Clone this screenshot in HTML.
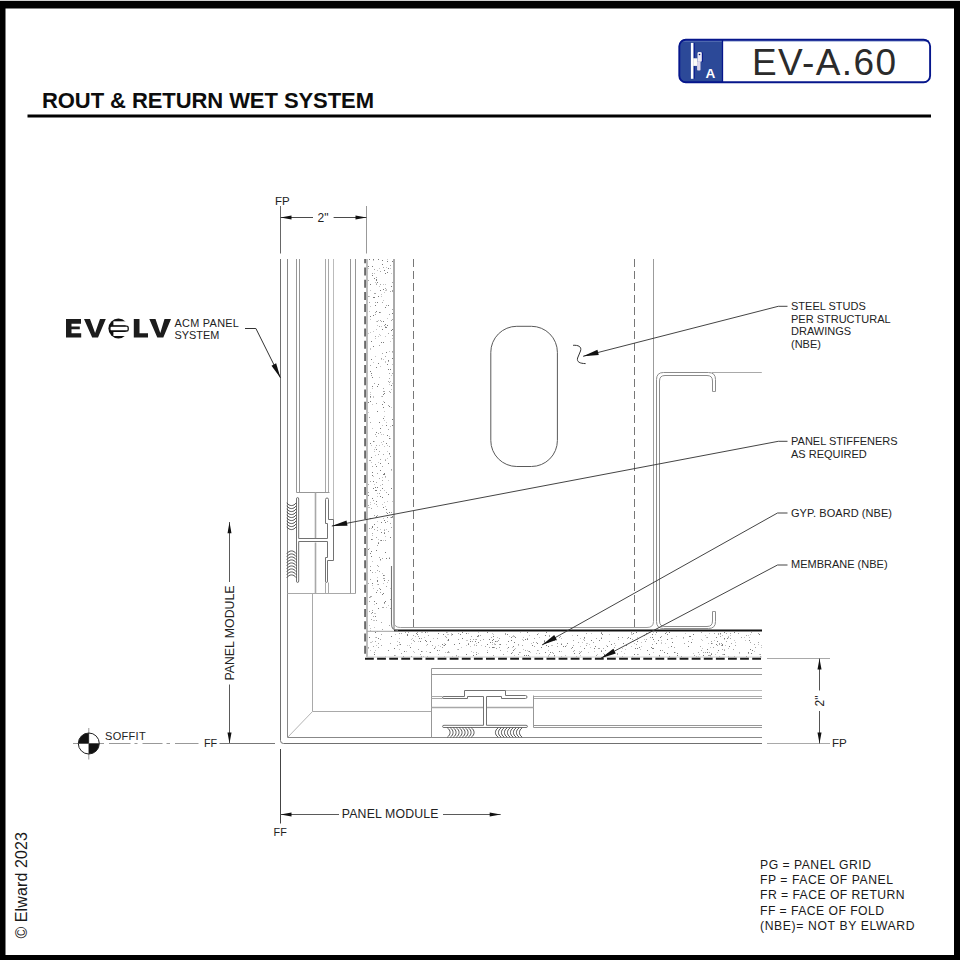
<!DOCTYPE html>
<html><head><meta charset="utf-8"><title>Rout &amp; Return Wet System</title>
<style>html,body{margin:0;padding:0;background:#000;width:960px;height:960px;overflow:hidden}
svg{display:block} text{font-family:"Liberation Sans", sans-serif}</style></head>
<body><svg width="960" height="960" viewBox="0 0 960 960">
<rect x="0" y="0" width="960" height="960" fill="#000"/>
<rect x="0" y="0" width="960" height="1" fill="#cfcfcf"/>
<rect x="5.5" y="8.5" width="948.5" height="946.5" fill="#fff"/>
<text x="42" y="107.5" font-size="22" font-weight="bold" fill="#0d0d0d" text-anchor="start" textLength="332" >ROUT &amp; RETURN WET SYSTEM</text>
<rect x="27.5" y="114.5" width="903.5" height="3" fill="#000"/>
<rect x="679.3" y="39.7" width="250.8" height="42.6" rx="6.5" fill="#fff"/>
<path d="M685.8 39.7 H722.5 V82.3 H685.8 Q679.3 82.3 679.3 75.8 V46.2 Q679.3 39.7 685.8 39.7 Z" fill="#2c4998"/>
<path d="M681 40.9 H929" stroke="#7088c4" stroke-width="1.2"/>
<rect x="679.3" y="39.7" width="250.8" height="42.6" rx="6.5" fill="none" stroke="#06168c" stroke-width="1.9"/>
<path d="M722.5 40 V82" stroke="#06168c" stroke-width="1.3"/>
<path d="M694.3 43 V58 M694.3 66.2 V78.7 M702.4 52.5 V62" stroke="#0a1a90" stroke-width="1"/>
<rect x="690.9" y="42.9" width="2.5" height="35.9" fill="#fff"/>
<rect x="693.2" y="58.3" width="4.2" height="7.6" fill="#fbfbf6"/>
<rect x="697.5" y="52" width="4.3" height="9.8" rx="1.4" fill="#eceaf4"/>
<rect x="697.1" y="61.3" width="3.4" height="9.3" rx="0.8" fill="#dcd6ea"/>
<circle cx="699.5" cy="54.5" r="0.8" fill="#0a1a6a"/>
<text x="705.6" y="77.6" font-size="13.6" font-weight="bold" fill="#fff" text-anchor="start" >A</text>
<text x="752" y="75" font-size="37" font-weight="normal" fill="#2b2b2b" text-anchor="start" textLength="144" >EV-A.60</text>
<text x="275.0" y="204.8" font-size="11.5" font-weight="normal" fill="#222" text-anchor="start" >FP</text>
<line x1="280.5" y1="206" x2="280.5" y2="253.5" stroke="#666" stroke-width="1" />
<line x1="366.5" y1="206" x2="366.5" y2="253.5" stroke="#999" stroke-width="1" />
<line x1="280.5" y1="217.5" x2="313" y2="217.5" stroke="#4a4a4a" stroke-width="1" />
<line x1="333.6" y1="217.5" x2="366.5" y2="217.5" stroke="#4a4a4a" stroke-width="1" />
<path d="M280.50 217.50 L291.50 215.50 L291.50 219.50 Z" fill="#111"/>
<path d="M366.50 217.50 L355.50 219.50 L355.50 215.50 Z" fill="#111"/>
<text x="323" y="221.7" font-size="12" font-weight="normal" fill="#222" text-anchor="middle" >2"</text>
<path d="M378 336.5h1M385 307.5h1M374 278.5h1M375 305.5h1M371 373.5h1M386 558.5h1M385 327.5h1M371 551.5h1M371 556.5h1M371 539.5h1M387 364.5h1M392 419.5h1M377 386.5h1M370 553.5h1M391 488.5h1M384 473.5h1M383 474.5h1M385 552.5h1M387 513.5h1M376 501.5h1M391 618.5h1M382 404.5h1M368 495.5h1M383 289.5h1M391 385.5h1M373 488.5h1M381 540.5h1M389 453.5h1M372 377.5h1M386 352.5h1M381 532.5h1M372 612.5h1M391 286.5h1M380 463.5h1M380 290.5h1M373 315.5h1M368 549.5h1M387 272.5h1M372 583.5h1M383 321.5h1M383 418.5h1M378 638.5h1M384 270.5h1M390 537.5h1M388 305.5h1M373 441.5h1M392 516.5h1M392 358.5h1M374 524.5h1M368 402.5h1M387 435.5h1M370 371.5h1M378 363.5h1M383 593.5h1M371 457.5h1M373 481.5h1M380 496.5h1M373 346.5h1M382 594.5h1M389 438.5h1M368 266.5h1M391 330.5h1M376 367.5h1M386 425.5h1M369 637.5h1M384 474.5h1M384 520.5h1M387 261.5h1M383 575.5h1M378 608.5h1M392 313.5h1M376 280.5h1M385 273.5h1M387 517.5h1M376 490.5h1M375 616.5h1M382 329.5h1M378 296.5h1M374 601.5h1M390 588.5h1M372 498.5h1M383 342.5h1M381 522.5h1M379 422.5h1M378 542.5h1M380 428.5h1M370 316.5h1M376 279.5h1M372 475.5h1M385 522.5h1M370 401.5h1M370 396.5h1M370 570.5h1M382 264.5h1M387 325.5h1M371 341.5h1M377 580.5h1M377 487.5h1M379 268.5h1M391 517.5h1M375 487.5h1M389 512.5h1M390 369.5h1M391 584.5h1M372 266.5h1M381 342.5h1M384 602.5h1M377 282.5h1M382 260.5h1M378 384.5h1M373 259.5h1M376 516.5h1M392 261.5h1M380 559.5h1M377 581.5h1M392 338.5h1M392 425.5h1M391 575.5h1M384 580.5h1M372 527.5h1M389 558.5h1M375 302.5h1M379 312.5h1M388 268.5h1M383 394.5h1M384 533.5h1M391 636.5h1M375 632.5h1M388 494.5h1M389 406.5h1M388 360.5h1M376 592.5h1M386 327.5h1M376 603.5h1M383 407.5h1M382 497.5h1M377 302.5h1M370 518.5h1M374 297.5h1M384 393.5h1M384 402.5h1M383 507.5h1M383 607.5h1M372 472.5h1M378 259.5h1M371 359.5h1M376 449.5h1M370 443.5h1M376 311.5h1M372 386.5h1M374 654.5h1M388 463.5h1M370 284.5h1M392 329.5h1M385 324.5h1M377 411.5h1M376 466.5h1M385 601.5h1M373 297.5h1M375 490.5h1M372 539.5h1M378 543.5h1M376 550.5h1M380 470.5h1M376 432.5h1M386 443.5h1M388 369.5h1M380 589.5h1M372 275.5h1M386 509.5h1M382 488.5h1M372 526.5h1M388 650.5h1M369 259.5h1M724 654.5h1M664 652.5h1M430 641.5h1M527 639.5h1M548 646.5h1M637 648.5h1M604 654.5h1M493 647.5h1M525 639.5h1M646 633.5h1M579 653.5h1M652 634.5h1M493 639.5h1M545 635.5h1M508 647.5h1M468 644.5h1M466 645.5h1M595 646.5h1M478 642.5h1M633 633.5h1M563 646.5h1M537 634.5h1M500 644.5h1M438 633.5h1M671 646.5h1M636 632.5h1M601 633.5h1M425 640.5h1M567 643.5h1M528 655.5h1M546 632.5h1M513 635.5h1M591 640.5h1M487 632.5h1M514 642.5h1M434 648.5h1M602 634.5h1M672 642.5h1M529 651.5h1M649 654.5h1M607 646.5h1M669 656.5h1M544 641.5h1M524 655.5h1M489 639.5h1M490 642.5h1M653 648.5h1M631 633.5h1M623 643.5h1M419 638.5h1M584 648.5h1M734 632.5h1M711 643.5h1M466 633.5h1M727 638.5h1M584 637.5h1M410 647.5h1M445 644.5h1M667 634.5h1M532 645.5h1M420 641.5h1M403 656.5h1M601 638.5h1M452 634.5h1M477 636.5h1M722 644.5h1M652 637.5h1M660 637.5h1M495 641.5h1M421 651.5h1M711 654.5h1M601 651.5h1M505 633.5h1M577 635.5h1M681 656.5h1M454 644.5h1M550 652.5h1M611 644.5h1M618 637.5h1M632 639.5h1M628 637.5h1M459 643.5h1M652 648.5h1M460 634.5h1M421 656.5h1M407 634.5h1M493 636.5h1M507 634.5h1M559 651.5h1M651 647.5h1M653 639.5h1M487 644.5h1M561 644.5h1M665 633.5h1M660 650.5h1M716 644.5h1M689 636.5h1M511 637.5h1M658 640.5h1M554 655.5h1M470 641.5h1M656 643.5h1M707 652.5h1M684 643.5h1M667 639.5h1M462 638.5h1M462 632.5h1M443 634.5h1M599 640.5h1M573 651.5h1M659 655.5h1M416 633.5h1M515 637.5h1M707 649.5h1M496 648.5h1M722 645.5h1M426 641.5h1M669 632.5h1M729 646.5h1M512 652.5h1M749 640.5h1M677 653.5h1M545 652.5h1M480 640.5h1M561 638.5h1M588 652.5h1M635 648.5h1M513 650.5h1M693 634.5h1M407 635.5h1M466 654.5h1M748 652.5h1M417 634.5h1M667 653.5h1M448 639.5h1M411 656.5h1M541 647.5h1M724 638.5h1M527 632.5h1M760 656.5h1M637 641.5h1M409 645.5h1M634 654.5h1M759 634.5h1M394 648.5h1M572 647.5h1M647 650.5h1M475 641.5h1M478 635.5h1M750 649.5h1M442 644.5h1M724 632.5h1M613 649.5h1M513 646.5h1M746 656.5h1M691 642.5h1M677 655.5h1M746 656.5h1M565 646.5h1M492 640.5h1M473 655.5h1M661 643.5h1M526 655.5h1M494 644.5h1M546 645.5h1M448 640.5h1M400 644.5h1M717 641.5h1M703 655.5h1M752 650.5h1M511 653.5h1M692 639.5h1M626 645.5h1M444 645.5h1M716 637.5h1M404 651.5h1M487 652.5h1M644 635.5h1M476 654.5h1M688 646.5h1M656 632.5h1M604 655.5h1M594 648.5h1M720 633.5h1M425 632.5h1M751 653.5h1M508 641.5h1M630 638.5h1M492 647.5h1M574 653.5h1M674 652.5h1M511 640.5h1M612 653.5h1M537 643.5h1M639 647.5h1M731 643.5h1M437 650.5h1M718 650.5h1M430 652.5h1M690 636.5h1" stroke="#7c7c7c" stroke-width="1"/>
<path d="M380 592.5h1M379 557.5h1M370 481.5h1M385 476.5h1M388 580.5h1M380 284.5h1M377 473.5h1M377 545.5h1M386 586.5h1M390 291.5h1M383 607.5h1M382 558.5h1M373 616.5h1M377 527.5h1M377 570.5h1M373 646.5h1M369 601.5h1M378 433.5h1M386 492.5h1M390 599.5h1M377 590.5h1M390 456.5h1M379 345.5h1M374 652.5h1M380 459.5h1M380 540.5h1M376 620.5h1M375 336.5h1M389 378.5h1M376 403.5h1M379 571.5h1M384 575.5h1M382 607.5h1M380 312.5h1M374 293.5h1M378 566.5h1M372 533.5h1M370 365.5h1M376 436.5h1M371 508.5h1M370 332.5h1M376 504.5h1M374 529.5h1M368 647.5h1M390 392.5h1M392 373.5h1M378 584.5h1M375 464.5h1M383 441.5h1M383 391.5h1M382 629.5h1M371 375.5h1M383 578.5h1M379 588.5h1M390 643.5h1M388 429.5h1M380 639.5h1M372 273.5h1M372 572.5h1M372 539.5h1M391 591.5h1M381 358.5h1M377 515.5h1M376 537.5h1M379 493.5h1M384 325.5h1M368 484.5h1M392 335.5h1M391 320.5h1M384 530.5h1M385 288.5h1M392 309.5h1M392 291.5h1M387 521.5h1M384 532.5h1M384 391.5h1M381 321.5h1M389 382.5h1M377 321.5h1M389 446.5h1M375 641.5h1M389 373.5h1M380 432.5h1M370 628.5h1M382 484.5h1M384 578.5h1M375 312.5h1M392 351.5h1M389 391.5h1M386 512.5h1M369 611.5h1M368 583.5h1M375 293.5h1M378 542.5h1M369 528.5h1M376 284.5h1M377 530.5h1M384 603.5h1M376 277.5h1M385 356.5h1M371 596.5h1M385 460.5h1M375 434.5h1M372 466.5h1M370 579.5h1M369 302.5h1M377 565.5h1M382 353.5h1M376 445.5h1M369 417.5h1M378 454.5h1M388 361.5h1M370 394.5h1M369 460.5h1M375 302.5h1M389 625.5h1M391 512.5h1M388 333.5h1M381 634.5h1M392 517.5h1M390 608.5h1M368 280.5h1M380 490.5h1M388 531.5h1M368 492.5h1M370 596.5h1M383 388.5h1M392 364.5h1M383 454.5h1M392 282.5h1M370 566.5h1M391 613.5h1M368 505.5h1M371 613.5h1M390 523.5h1M392 319.5h1M383 267.5h1M382 396.5h1M386 305.5h1M379 326.5h1M371 619.5h1M380 271.5h1M382 466.5h1M379 451.5h1M378 643.5h1M390 265.5h1M370 460.5h1M381 645.5h1M369 597.5h1M376 482.5h1M379 478.5h1M385 540.5h1M391 469.5h1M388 405.5h1M373 500.5h1M376 637.5h1M388 381.5h1M380 320.5h1M374 515.5h1M378 647.5h1M374 383.5h1M370 422.5h1M374 269.5h1M391 527.5h1M392 290.5h1M372 610.5h1M370 397.5h1M382 480.5h1M381 622.5h1M368 296.5h1M375 314.5h1M389 314.5h1M382 302.5h1M458 639.5h1M549 636.5h1M617 654.5h1M662 650.5h1M701 632.5h1M536 642.5h1M514 649.5h1M726 641.5h1M739 652.5h1M735 645.5h1M750 642.5h1M596 638.5h1M499 647.5h1M632 639.5h1M713 647.5h1M607 653.5h1M421 638.5h1M420 654.5h1M758 642.5h1M491 637.5h1M553 653.5h1M480 635.5h1M573 645.5h1M576 656.5h1M755 647.5h1M492 642.5h1M717 645.5h1M586 633.5h1M493 655.5h1M533 642.5h1M760 654.5h1M698 652.5h1M637 654.5h1M614 647.5h1M549 654.5h1M557 646.5h1M495 644.5h1M726 633.5h1M476 645.5h1M437 638.5h1M622 637.5h1M711 653.5h1M734 656.5h1M537 650.5h1M527 638.5h1M514 636.5h1M427 644.5h1M512 652.5h1M446 632.5h1M414 641.5h1M701 650.5h1M485 646.5h1M448 652.5h1M505 633.5h1M498 640.5h1M399 642.5h1M711 641.5h1M674 647.5h1M733 649.5h1M728 637.5h1M539 653.5h1M684 643.5h1M580 652.5h1M397 645.5h1M601 650.5h1M401 633.5h1M439 650.5h1M468 643.5h1M428 635.5h1M458 633.5h1M719 644.5h1M476 652.5h1M494 647.5h1M598 648.5h1M470 639.5h1M738 633.5h1M700 646.5h1M609 641.5h1M731 643.5h1M405 632.5h1M622 656.5h1M636 644.5h1M614 643.5h1M730 633.5h1M554 656.5h1M652 644.5h1M708 655.5h1M645 641.5h1M573 651.5h1M534 646.5h1M500 650.5h1M557 643.5h1M476 652.5h1M480 640.5h1M719 643.5h1M746 635.5h1M584 640.5h1M578 642.5h1M709 655.5h1M552 652.5h1M394 655.5h1M709 652.5h1M418 636.5h1M417 632.5h1M549 635.5h1M605 650.5h1M581 651.5h1M518 654.5h1M720 636.5h1M399 633.5h1M724 650.5h1M646 639.5h1M666 632.5h1M423 656.5h1M730 638.5h1M705 652.5h1M707 637.5h1M714 633.5h1M586 645.5h1M483 639.5h1M413 635.5h1M758 633.5h1M617 653.5h1M505 634.5h1M514 655.5h1M593 642.5h1M748 653.5h1M751 632.5h1M551 638.5h1M683 637.5h1M448 651.5h1M408 632.5h1M718 633.5h1M696 656.5h1M427 656.5h1M499 638.5h1M718 634.5h1M445 636.5h1M544 642.5h1M573 640.5h1M582 642.5h1M710 655.5h1M659 656.5h1M418 649.5h1M688 641.5h1M497 641.5h1M442 647.5h1M571 648.5h1M503 654.5h1M719 656.5h1M447 652.5h1M596 655.5h1M584 638.5h1M650 637.5h1M458 649.5h1M703 652.5h1M661 636.5h1M559 637.5h1M525 650.5h1M723 654.5h1M548 656.5h1M473 639.5h1M476 639.5h1M446 637.5h1M471 636.5h1M534 638.5h1M499 644.5h1M617 654.5h1M631 632.5h1M601 632.5h1M694 655.5h1M728 656.5h1M741 637.5h1M554 640.5h1M518 644.5h1M522 645.5h1M603 648.5h1M561 656.5h1M413 640.5h1M496 648.5h1M671 638.5h1M721 643.5h1M627 638.5h1M456 655.5h1M523 640.5h1M432 645.5h1M574 650.5h1M599 648.5h1M478 636.5h1M722 649.5h1M721 645.5h1M458 656.5h1M754 644.5h1M489 647.5h1M519 652.5h1M613 651.5h1M472 641.5h1M560 636.5h1M401 653.5h1M544 640.5h1" stroke="#a6a6a6" stroke-width="1"/>
<path d="M369 296.5h1M369 518.5h1M381 294.5h1M369 548.5h1M386 290.5h1M375 282.5h1M372 535.5h1M389 351.5h1M374 449.5h1M386 289.5h1M385 477.5h1M382 444.5h1M392 383.5h1M383 434.5h1M370 319.5h1M378 336.5h1M370 650.5h1M390 438.5h1M370 306.5h1M370 290.5h1M386 607.5h1M389 436.5h1M387 318.5h1M377 325.5h1M383 300.5h1M376 329.5h1M381 442.5h1M370 349.5h1M368 507.5h1M368 333.5h1M386 422.5h1M388 605.5h1M385 459.5h1M383 583.5h1M374 484.5h1M369 311.5h1M371 445.5h1M387 451.5h1M387 445.5h1M382 504.5h1M371 642.5h1M390 341.5h1M379 334.5h1M384 411.5h1M384 446.5h1M385 536.5h1M375 572.5h1M391 375.5h1M391 273.5h1M374 613.5h1M379 445.5h1M383 359.5h1M387 259.5h1M370 597.5h1M374 503.5h1M370 628.5h1M370 630.5h1M372 561.5h1M387 501.5h1M385 326.5h1M371 528.5h1M374 273.5h1M375 650.5h1M381 326.5h1M389 557.5h1M385 336.5h1M392 352.5h1M373 331.5h1M385 290.5h1M385 506.5h1M375 356.5h1M384 490.5h1M382 425.5h1M374 613.5h1M383 518.5h1M385 362.5h1M380 485.5h1M381 296.5h1M392 338.5h1M372 388.5h1M371 462.5h1M373 620.5h1M381 359.5h1M379 268.5h1M390 268.5h1M377 521.5h1M370 394.5h1M376 645.5h1M380 335.5h1M390 426.5h1M373 476.5h1M370 392.5h1M376 321.5h1M381 396.5h1M390 381.5h1M373 362.5h1M392 364.5h1M373 397.5h1M368 268.5h1M384 502.5h1M388 480.5h1M384 416.5h1M374 620.5h1M379 286.5h1M391 389.5h1M389 454.5h1M375 613.5h1M373 396.5h1M378 539.5h1M374 441.5h1M370 502.5h1M375 517.5h1M370 332.5h1M368 412.5h1M386 529.5h1M387 458.5h1M372 404.5h1M369 625.5h1M390 517.5h1M386 267.5h1M390 588.5h1M372 585.5h1M385 284.5h1M389 384.5h1M370 642.5h1M384 292.5h1M370 394.5h1M375 637.5h1M370 504.5h1M387 582.5h1M372 428.5h1M377 577.5h1M369 507.5h1M374 604.5h1M377 496.5h1M385 361.5h1M377 493.5h1M380 366.5h1M372 641.5h1M387 582.5h1M379 377.5h1M373 260.5h1M377 631.5h1M378 320.5h1M378 462.5h1M391 407.5h1M380 560.5h1M376 283.5h1M377 584.5h1M384 420.5h1M368 648.5h1M374 627.5h1M382 573.5h1M383 284.5h1M381 434.5h1M391 593.5h1M377 506.5h1M373 588.5h1M383 540.5h1M382 477.5h1M370 348.5h1M375 447.5h1M391 470.5h1M374 451.5h1M383 401.5h1M384 529.5h1M375 455.5h1M377 270.5h1M392 501.5h1M380 529.5h1M375 338.5h1M391 617.5h1M385 656.5h1M685 633.5h1M714 640.5h1M451 635.5h1M492 644.5h1M399 649.5h1M724 639.5h1M520 632.5h1M422 632.5h1M609 634.5h1M583 639.5h1M761 645.5h1M397 641.5h1M496 641.5h1M529 656.5h1M706 637.5h1M422 651.5h1M406 651.5h1M424 637.5h1M451 634.5h1M728 648.5h1M587 643.5h1M395 634.5h1M457 649.5h1M552 645.5h1M494 643.5h1M580 655.5h1M520 652.5h1M631 634.5h1M426 651.5h1M709 633.5h1M556 640.5h1M427 632.5h1M632 656.5h1M461 647.5h1M471 651.5h1M579 651.5h1M475 639.5h1M640 649.5h1M447 634.5h1M443 645.5h1M513 636.5h1M514 655.5h1M456 656.5h1M531 643.5h1M618 639.5h1M538 650.5h1M522 639.5h1M445 652.5h1M637 639.5h1M513 635.5h1M493 634.5h1M702 640.5h1M699 654.5h1M582 642.5h1M413 651.5h1M603 653.5h1M433 638.5h1M426 645.5h1M473 652.5h1M597 654.5h1M551 645.5h1M606 645.5h1M494 644.5h1M474 645.5h1M580 646.5h1M676 636.5h1M712 643.5h1M539 637.5h1M590 647.5h1M641 642.5h1M438 654.5h1M507 651.5h1M487 650.5h1M474 644.5h1M492 633.5h1M735 642.5h1M675 652.5h1M692 639.5h1M622 648.5h1M710 647.5h1M710 656.5h1M448 634.5h1M440 646.5h1M414 652.5h1M655 634.5h1M728 636.5h1M748 635.5h1M478 653.5h1M523 637.5h1M467 640.5h1M528 651.5h1M412 638.5h1M536 653.5h1M452 656.5h1M625 649.5h1M523 649.5h1M586 643.5h1M435 646.5h1M418 641.5h1M693 653.5h1M411 639.5h1M615 645.5h1M644 639.5h1M421 632.5h1M661 643.5h1M548 650.5h1M637 637.5h1M470 646.5h1M734 640.5h1M724 649.5h1M621 651.5h1M478 632.5h1M601 637.5h1M447 632.5h1M466 645.5h1M653 652.5h1M654 641.5h1M638 654.5h1M632 634.5h1M447 640.5h1M565 655.5h1M530 652.5h1M661 640.5h1M653 632.5h1M497 637.5h1M701 639.5h1M668 647.5h1M407 645.5h1M594 651.5h1M468 633.5h1M476 643.5h1M415 636.5h1M750 634.5h1M580 638.5h1M758 644.5h1M451 633.5h1M717 652.5h1M444 656.5h1M566 645.5h1M538 633.5h1M702 648.5h1M409 645.5h1M444 643.5h1M683 638.5h1M481 645.5h1M421 632.5h1M749 637.5h1M527 650.5h1M512 647.5h1M435 647.5h1M561 643.5h1M438 645.5h1M549 640.5h1M588 652.5h1M698 656.5h1M411 643.5h1M624 653.5h1M631 646.5h1M512 636.5h1M515 648.5h1M754 651.5h1M561 651.5h1M561 638.5h1M730 635.5h1M548 655.5h1M449 652.5h1M631 633.5h1M507 648.5h1M466 640.5h1M518 645.5h1M725 645.5h1M722 654.5h1M722 635.5h1M715 654.5h1M759 654.5h1M641 646.5h1M739 653.5h1M399 644.5h1M672 638.5h1M572 635.5h1M761 647.5h1M661 642.5h1M744 637.5h1M708 643.5h1M589 644.5h1M609 652.5h1M529 635.5h1M506 644.5h1M429 652.5h1M509 636.5h1M633 641.5h1M634 643.5h1M745 640.5h1M395 655.5h1M548 642.5h1M720 634.5h1M591 633.5h1M665 643.5h1M399 638.5h1M705 635.5h1" stroke="#c6c6c6" stroke-width="1"/>
<line x1="367" y1="259" x2="367" y2="657" stroke="#a8a8a8" stroke-width="1.5" />
<line x1="367" y1="657" x2="762" y2="657" stroke="#d0d0d0" stroke-width="1" />
<line x1="394" y1="259" x2="394" y2="629" stroke="#b0b0b0" stroke-width="1.8" />
<line x1="367" y1="631.3" x2="394" y2="631.3" stroke="#a0a0a0" stroke-width="1" />
<line x1="394" y1="630.5" x2="762" y2="630.5" stroke="#111" stroke-width="2" />
<path d="M365.1 259 V658" fill="none" stroke="#6a6a6a" stroke-width="1.9" stroke-dasharray="8 4.2" stroke-dashoffset="3.7"/>
<path d="M365 658.8 H762" fill="none" stroke="#1a1a1a" stroke-width="2" stroke-dasharray="8.8 3.3"/>
<path d="M413.5 259 V628" stroke="#777" stroke-width="1" stroke-dasharray="8 4"/>
<path d="M634.5 259 V628" stroke="#777" stroke-width="1" stroke-dasharray="8 4"/>
<path d="M394 259 V622 Q394 627.5 400.5 627.5 H647 Q653.5 627.5 653.5 621.5 V259" stroke="#9c9c9c" stroke-width="1" fill="none" />
<path d="M391.5 566 V624 Q391.5 630.5 398 630.5" stroke="#777" stroke-width="1.1" fill="none" />
<path d="M715.5 391.5 V379.5 Q715.5 372.5 708.5 372.5 H663.5 Q656.5 372.5 656.5 379.5 V621.5 Q656.5 628.5 663.5 628.5 H708.5 Q715.5 628.5 715.5 621.5 V611.5" stroke="#8c8c8c" stroke-width="1" fill="none" />
<path d="M712.5 391.5 V381 Q712.5 375.5 707 375.5 H665 Q659.5 375.5 659.5 381 V621 Q659.5 626.5 665 626.5 H707 Q712.5 626.5 712.5 621 V611.5" stroke="#8c8c8c" stroke-width="1" fill="none" />
<path d="M712.5 391.5 H715.5 M712.5 611.5 H715.5" stroke="#999" stroke-width="1" fill="none" />
<line x1="712" y1="372.5" x2="761.8" y2="372.5" stroke="#a9a9a9" stroke-width="1" />
<rect x="490.8" y="326.3" width="66.6" height="140.2" rx="26" fill="none" stroke="#5a5a5a" stroke-width="1"/>
<path d="M280.5 259 V740.5 Q280.5 743.5 283.5 743.5 H762" stroke="#707070" stroke-width="1" fill="none" />
<path d="M287.5 259 V737.5 H762" stroke="#888" stroke-width="1" fill="none" />
<line x1="287.5" y1="737.5" x2="312.5" y2="711.5" stroke="#b4b4b4" stroke-width="1" />
<path d="M312.5 593.5 V711.5 H431.5" stroke="#a9a9a9" stroke-width="1" fill="none" />
<line x1="287.5" y1="593.5" x2="355.5" y2="593.5" stroke="#a9a9a9" stroke-width="1" />
<path d="M431.5 668.5 V737.5" stroke="#979797" stroke-width="1" fill="none" />
<path d="M431.5 668.5 H762" stroke="#979797" stroke-width="1" fill="none" />
<path d="M431.5 674.5 H762" stroke="#979797" stroke-width="1" fill="none" />
<path d="M504.5 690.5 H762" stroke="#bbb" stroke-width="1" fill="none" />
<path d="M533.5 696.5 H762 M533.5 698.5 H762 M431.5 696.5 H442.5 M431.5 698.5 H442.5" stroke="#a9a9a9" stroke-width="1" fill="none" />
<path d="M533.5 725.5 H762 M533.5 727.5 H762 M533.5 695.5 V727.5" stroke="#979797" stroke-width="1" fill="none" />
<path d="M431.5 707.5 H483.5 M486.5 707.5 H533.5" stroke="#a8a8a8" stroke-width="1.6" fill="none" />
<path d="M355.5 259 V593.5 M350.5 259 V593.5" stroke="#979797" stroke-width="1" fill="none" />
<path d="M333.5 259 V520" stroke="#bbb" stroke-width="1" fill="none" />
<path d="M325.5 259 V492.5 M328.5 259 V492.5 M325.5 582.5 V593.5 M328.5 582.5 V593.5" stroke="#a9a9a9" stroke-width="1" fill="none" />
<path d="M296.5 259 V492.5 M299.5 259 V492.5 M296.5 492.5 H329.5" stroke="#979797" stroke-width="1" fill="none" />
<path d="M315.5 492.5 V538.5 M315.5 542.5 V593.5" stroke="#a8a8a8" stroke-width="1.6" fill="none" />
<g><path d="M464.5 690.5 H505.5 V695.5 H525.5 Q527 695.5 527 697 Q527 698.5 525.5 698.5 H501.5 V696.5 H486.5 V725.3 H526 Q527.5 725.3 527.5 726.4 Q527.5 727.5 526 727.5 H444 Q442.5 727.5 442.5 726.4 Q442.5 725.3 444 725.3 H483.5 V696.5 H467.5 V698.5 H444 Q442.5 698.5 442.5 697.5 Q442.5 696.5 444 696.5 H464.5 Z" stroke="#727272" stroke-width="1" fill="#fff"/>
<path d="M447.3 727.8 C451.0 730.3 451.0 734.7 447.3 737.2 M450.3 727.8 C454.0 730.3 454.0 734.7 450.3 737.2 M453.3 727.8 C457.0 730.3 457.0 734.7 453.3 737.2 M456.3 727.8 C460.0 730.3 460.0 734.7 456.3 737.2 M459.3 727.8 C463.0 730.3 463.0 734.7 459.3 737.2 M462.3 727.8 C466.0 730.3 466.0 734.7 462.3 737.2 M465.3 727.8 C469.0 730.3 469.0 734.7 465.3 737.2 M468.3 727.8 C472.0 730.3 472.0 734.7 468.3 737.2 M471.3 727.8 C475.0 730.3 475.0 734.7 471.3 737.2 M522.2 727.8 C518.5 730.3 518.5 734.7 522.2 737.2 M519.2 727.8 C515.5 730.3 515.5 734.7 519.2 737.2 M516.2 727.8 C512.5 730.3 512.5 734.7 516.2 737.2 M513.2 727.8 C509.5 730.3 509.5 734.7 513.2 737.2 M510.2 727.8 C506.5 730.3 506.5 734.7 510.2 737.2 M507.2 727.8 C503.5 730.3 503.5 734.7 507.2 737.2 M504.2 727.8 C500.5 730.3 500.5 734.7 504.2 737.2 M501.2 727.8 C497.5 730.3 497.5 734.7 501.2 737.2 M498.2 727.8 C494.5 730.3 494.5 734.7 498.2 737.2 " stroke="#3a3a3a" stroke-width="0.85" fill="none"/></g>
<g transform="matrix(0,-1,-1,0,1024,1025)"><path d="M464.5 690.5 H505.5 V695.5 H525.5 Q527 695.5 527 697 Q527 698.5 525.5 698.5 H501.5 V696.5 H486.5 V725.3 H526 Q527.5 725.3 527.5 726.4 Q527.5 727.5 526 727.5 H444 Q442.5 727.5 442.5 726.4 Q442.5 725.3 444 725.3 H483.5 V696.5 H467.5 V698.5 H444 Q442.5 698.5 442.5 697.5 Q442.5 696.5 444 696.5 H464.5 Z" stroke="#727272" stroke-width="1" fill="#fff"/>
<path d="M447.3 727.8 C451.0 730.3 451.0 734.7 447.3 737.2 M450.3 727.8 C454.0 730.3 454.0 734.7 450.3 737.2 M453.3 727.8 C457.0 730.3 457.0 734.7 453.3 737.2 M456.3 727.8 C460.0 730.3 460.0 734.7 456.3 737.2 M459.3 727.8 C463.0 730.3 463.0 734.7 459.3 737.2 M462.3 727.8 C466.0 730.3 466.0 734.7 462.3 737.2 M465.3 727.8 C469.0 730.3 469.0 734.7 465.3 737.2 M468.3 727.8 C472.0 730.3 472.0 734.7 468.3 737.2 M471.3 727.8 C475.0 730.3 475.0 734.7 471.3 737.2 M522.2 727.8 C518.5 730.3 518.5 734.7 522.2 737.2 M519.2 727.8 C515.5 730.3 515.5 734.7 519.2 737.2 M516.2 727.8 C512.5 730.3 512.5 734.7 516.2 737.2 M513.2 727.8 C509.5 730.3 509.5 734.7 513.2 737.2 M510.2 727.8 C506.5 730.3 506.5 734.7 510.2 737.2 M507.2 727.8 C503.5 730.3 503.5 734.7 507.2 737.2 M504.2 727.8 C500.5 730.3 500.5 734.7 504.2 737.2 M501.2 727.8 C497.5 730.3 497.5 734.7 501.2 737.2 M498.2 727.8 C494.5 730.3 494.5 734.7 498.2 737.2 " stroke="#3a3a3a" stroke-width="0.85" fill="none"/></g>
<line x1="767" y1="658.5" x2="830" y2="658.5" stroke="#a9a9a9" stroke-width="1" />
<line x1="767" y1="743.5" x2="830" y2="743.5" stroke="#a9a9a9" stroke-width="1" />
<line x1="819.5" y1="658.5" x2="819.5" y2="690.5" stroke="#555" stroke-width="1" />
<line x1="819.5" y1="711" x2="819.5" y2="743.5" stroke="#555" stroke-width="1" />
<path d="M819.50 658.50 L821.50 669.50 L817.50 669.50 Z" fill="#111"/>
<path d="M819.50 743.50 L817.50 732.50 L821.50 732.50 Z" fill="#111"/>
<text x="0" y="0" font-size="12" font-weight="normal" fill="#222" text-anchor="middle" transform="translate(823.5 701) rotate(-90)">2"</text>
<text x="832" y="747.3" font-size="11.6" font-weight="normal" fill="#222" text-anchor="start" >FP</text>
<line x1="229.5" y1="522" x2="229.5" y2="582" stroke="#5a5a5a" stroke-width="1" />
<line x1="229.5" y1="684.5" x2="229.5" y2="743.5" stroke="#5a5a5a" stroke-width="1" />
<path d="M229.50 522.20 L231.50 533.20 L227.50 533.20 Z" fill="#111"/>
<path d="M229.50 743.50 L227.50 732.50 L231.50 732.50 Z" fill="#111"/>
<text x="0" y="0" font-size="12.3" font-weight="normal" fill="#222" text-anchor="middle" textLength="95" transform="translate(234 633) rotate(-90)">PANEL MODULE</text>
<path d="M73 743.5 H104 M109 743.5 H130.5 M134.5 743.5 H137.5 M142.5 743.5 H162.5 M166.5 743.5 H170 M175 743.5 H198.5" stroke="#999" stroke-width="1"/>
<text x="204" y="747.4" font-size="10.8" font-weight="normal" fill="#222" text-anchor="start" >FF</text>
<line x1="219.5" y1="743.5" x2="275" y2="743.5" stroke="#777" stroke-width="1" />
<line x1="88.8" y1="728" x2="88.8" y2="759.5" stroke="#999" stroke-width="1" />
<path d="M88.8 743.5 L78.3 743.5 A10.5 10.5 0 0 1 88.8 733 Z" fill="#111"/>
<path d="M88.8 743.5 L99.3 743.5 A10.5 10.5 0 0 1 88.8 754 Z" fill="#111"/>
<circle cx="88.8" cy="743.5" r="10.5" fill="none" stroke="#222" stroke-width="1"/>
<text x="105.1" y="739.7" font-size="11" font-weight="normal" fill="#222" text-anchor="start" textLength="40.6" >SOFFIT</text>
<line x1="280.5" y1="749" x2="280.5" y2="823.5" stroke="#444" stroke-width="1" />
<line x1="280.5" y1="814.5" x2="339" y2="814.5" stroke="#5a5a5a" stroke-width="1" />
<line x1="443" y1="814.5" x2="500.7" y2="814.5" stroke="#5a5a5a" stroke-width="1" />
<path d="M280.50 814.50 L291.50 812.50 L291.50 816.50 Z" fill="#111"/>
<path d="M500.70 814.50 L489.70 816.50 L489.70 812.50 Z" fill="#111"/>
<text x="390.1" y="818.3" font-size="12.3" font-weight="normal" fill="#222" text-anchor="middle" textLength="96.5" >PANEL MODULE</text>
<text x="273.6" y="835.8" font-size="10.8" font-weight="normal" fill="#222" text-anchor="start" >FF</text>
<g fill="#1c1c1c"><path d="M66 319 H81 V323.8 H71.5 V326.5 H79.8 V329.3 H71.5 V333.3 H81.2 V337.5 H66 Z"/><path d="M84 319 H90 L95.1 333 L100 319 H105.8 L98 337.5 H92.2 Z"/><path d="M133.8 319 H139.5 V333.3 H148 V337.5 H133.8 Z"/><path d="M149.3 319 H155.5 L160.3 333 L164.5 319 H171 L163.3 337.5 H157.3 Z"/></g>
<circle cx="118.4" cy="328.5" r="10" fill="#111"/>
<rect x="113.4" y="321.3" width="17" height="4" fill="#fff"/>
<rect x="113.4" y="332" width="17" height="4" fill="#fff"/>
<rect x="125.6" y="318" width="6" height="21" fill="#fff"/>
<rect x="109.9" y="326.2" width="18.3" height="4.8" rx="1.6" fill="#fff" stroke="#111" stroke-width="1.3"/>
<text x="174.5" y="327" font-size="10.9" font-weight="normal" fill="#222" text-anchor="start" textLength="64.4" >ACM PANEL</text>
<text x="174.5" y="338.8" font-size="10.9" font-weight="normal" fill="#222" text-anchor="start" >SYSTEM</text>
<path d="M245 328.5 H255.9 L280.5 377.9" stroke="#333" stroke-width="1" fill="none" />
<path d="M280.50 377.90 L271.49 365.63 L276.14 363.31 Z" fill="#111"/>
<path d="M787.5 306.3 H778.3 L583.1 356.3" stroke="#3a3a3a" stroke-width="0.95" fill="none" />
<path d="M583.10 356.30 L597.45 349.84 L598.79 355.07 Z" fill="#111"/>
<path d="M787.5 441.3 H778.3 L331.8 526.1" stroke="#3a3a3a" stroke-width="0.95" fill="none" />
<path d="M331.80 526.10 L346.52 520.56 L347.53 525.86 Z" fill="#111"/>
<path d="M787.5 513 H777.5 L542 645" stroke="#3a3a3a" stroke-width="0.95" fill="none" />
<path d="M542.00 645.00 L554.20 635.07 L556.84 639.78 Z" fill="#111"/>
<path d="M787.5 565 H777.5 L600.8 658.3" stroke="#3a3a3a" stroke-width="0.95" fill="none" />
<path d="M600.80 658.30 L613.25 648.68 L615.77 653.45 Z" fill="#111"/>
<path d="M573.1 345.3 C578 345 582 346.5 580.5 351 L577.6 358 C576.5 362 580 363.5 585.6 363.6" stroke="#333" stroke-width="1" fill="none" />
<text x="791" y="309.7" font-size="11" font-weight="normal" fill="#222" text-anchor="start" >STEEL STUDS</text>
<text x="791" y="322.5" font-size="11" font-weight="normal" fill="#222" text-anchor="start" >PER STRUCTURAL</text>
<text x="791" y="335.3" font-size="11" font-weight="normal" fill="#222" text-anchor="start" >DRAWINGS</text>
<text x="791" y="348.2" font-size="11" font-weight="normal" fill="#222" text-anchor="start" >(NBE)</text>
<text x="791" y="445" font-size="11" font-weight="normal" fill="#222" text-anchor="start" textLength="106.6" >PANEL STIFFENERS</text>
<text x="791" y="458.3" font-size="11" font-weight="normal" fill="#222" text-anchor="start" >AS REQUIRED</text>
<text x="791" y="516.7" font-size="11" font-weight="normal" fill="#222" text-anchor="start" textLength="101" >GYP. BOARD (NBE)</text>
<text x="791" y="568.3" font-size="11" font-weight="normal" fill="#222" text-anchor="start" >MEMBRANE (NBE)</text>
<text x="760" y="868.7" font-size="12.2" font-weight="normal" fill="#1a1a1a" text-anchor="start" textLength="111" >PG = PANEL GRID</text>
<text x="760" y="883.9" font-size="12.2" font-weight="normal" fill="#1a1a1a" text-anchor="start" textLength="133" >FP = FACE OF PANEL</text>
<text x="760" y="899.3" font-size="12.2" font-weight="normal" fill="#1a1a1a" text-anchor="start" textLength="144.6" >FR = FACE OF RETURN</text>
<text x="760" y="914.8" font-size="12.2" font-weight="normal" fill="#1a1a1a" text-anchor="start" textLength="124" >FF = FACE OF FOLD</text>
<text x="760" y="930.4" font-size="12.2" font-weight="normal" fill="#1a1a1a" text-anchor="start" textLength="154.6" >(NBE)= NOT BY ELWARD</text>
<text x="0" y="0" font-size="16" font-weight="normal" fill="#1a1a1a" text-anchor="start" textLength="106.5" transform="translate(27.2 938.6) rotate(-90)">© Elward 2023</text>
</svg></body></html>
